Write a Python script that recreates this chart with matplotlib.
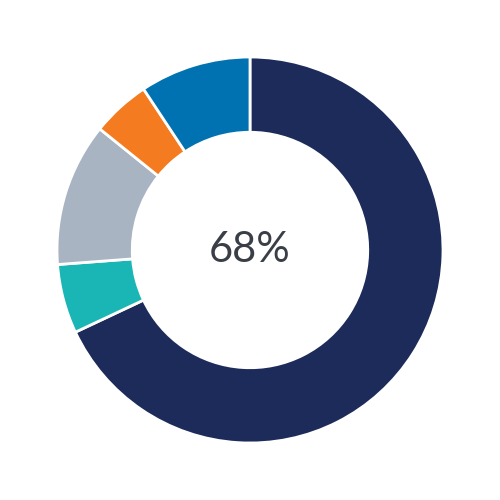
import matplotlib.pyplot as plt

labels = ["Navy", "Teal", "Grey", "Orange", "Blue"]
values = [68, 5.8, 12.0, 4.9, 9.3]
colors = ["#1c2b5a", "#1ab5b5", "#a9b4c2", "#f47b20", "#0072b2"]
center_text = "68%"

fig = plt.figure(figsize=(5, 5), dpi=100)
ax = fig.add_axes([0, 0, 1, 1])
ax.pie(values, colors=colors, startangle=90, counterclock=False,
       wedgeprops=dict(width=0.39, edgecolor="white", linewidth=2))
ax.text(0, 0, center_text, ha="center", va="center", fontsize=30,
        color="#3a3f47", family=["Lato", "DejaVu Sans"])
lim = 250 / 193
ax.set_xlim(-lim, lim)
ax.set_ylim(-lim, lim)
ax.set_aspect("equal")
ax.axis("off")
plt.savefig("out.png")
